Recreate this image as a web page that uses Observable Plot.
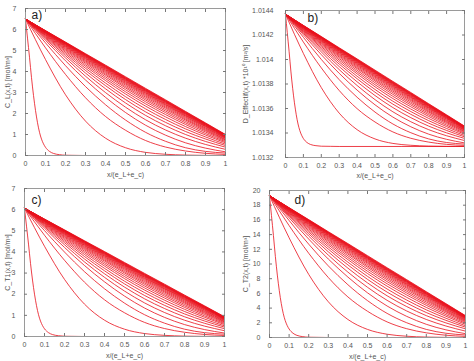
<!DOCTYPE html>
<html>
<head>
<meta charset="utf-8">
<script src="https://cdn.jsdelivr.net/npm/d3@7"></script>
<script src="https://cdn.jsdelivr.net/npm/@observablehq/plot@0.6"></script>
<style>
  html, body { margin: 0; padding: 0; background: #fff; }
  #fig { position: relative; width: 474px; height: 361px; overflow: hidden; }
  .panel { position: absolute; }
</style>
</head>
<body>
<div id="fig"></div>
<script>
// ---------- data ----------
// shared x positions for the profile curves
const xGrid = [0, 0.1, 0.2, 0.3, 0.4, 0.5, 0.6, 0.7, 0.8, 0.9, 1];
// earliest (steep) profile, on its own finer x positions, as fraction of inlet value
const steepX = [0, 0.01, 0.02, 0.03, 0.04, 0.05, 0.06, 0.07, 0.08, 0.09, 0.1, 0.12, 0.14, 0.17, 0.2, 0.25, 0.3, 1];
const steepProfile = [1, 0.86, 0.72, 0.57, 0.44, 0.33, 0.24, 0.17, 0.12, 0.085, 0.06, 0.03, 0.015, 0.006, 0.002, 0.001, 0, 0];
// later profiles (fraction of the inlet value) at xGrid, earliest to latest
const profiles = [
  [1, 0.703, 0.445, 0.252, 0.127, 0.057, 0.023, 0.009, 0.003, 0.001, 0],
  [1, 0.789, 0.594, 0.423, 0.286, 0.185, 0.110, 0.062, 0.033, 0.016, 0.008],
  [1, 0.825, 0.658, 0.505, 0.372, 0.260, 0.170, 0.104, 0.057, 0.030, 0.018],
  [1, 0.844, 0.694, 0.553, 0.426, 0.315, 0.222, 0.149, 0.093, 0.054, 0.027],
  [1, 0.855, 0.715, 0.581, 0.461, 0.354, 0.262, 0.187, 0.127, 0.081, 0.045],
  [1, 0.863, 0.731, 0.604, 0.489, 0.385, 0.294, 0.218, 0.154, 0.103, 0.061],
  [1, 0.870, 0.744, 0.623, 0.512, 0.410, 0.320, 0.243, 0.176, 0.121, 0.073],
  [1, 0.876, 0.755, 0.639, 0.531, 0.431, 0.342, 0.264, 0.195, 0.136, 0.083],
  [1, 0.881, 0.765, 0.653, 0.549, 0.451, 0.362, 0.283, 0.212, 0.150, 0.093],
  [1, 0.885, 0.774, 0.665, 0.563, 0.467, 0.379, 0.300, 0.227, 0.161, 0.101],
  [1, 0.889, 0.781, 0.676, 0.576, 0.482, 0.394, 0.314, 0.239, 0.172, 0.108],
  [1, 0.893, 0.788, 0.685, 0.588, 0.495, 0.407, 0.326, 0.250, 0.181, 0.114],
  [1, 0.896, 0.794, 0.693, 0.597, 0.505, 0.418, 0.337, 0.260, 0.188, 0.119],
  [1, 0.898, 0.799, 0.700, 0.606, 0.515, 0.428, 0.347, 0.268, 0.195, 0.124],
  [1, 0.901, 0.803, 0.707, 0.614, 0.524, 0.437, 0.355, 0.276, 0.201, 0.128],
  [1, 0.903, 0.807, 0.712, 0.621, 0.531, 0.445, 0.363, 0.283, 0.207, 0.132],
  [1, 0.905, 0.811, 0.717, 0.627, 0.538, 0.452, 0.370, 0.289, 0.212, 0.135],
  [1, 0.906, 0.814, 0.722, 0.632, 0.544, 0.458, 0.375, 0.294, 0.216, 0.138],
  [1, 0.907, 0.816, 0.725, 0.637, 0.549, 0.463, 0.380, 0.298, 0.219, 0.140],
  [1, 0.909, 0.819, 0.729, 0.641, 0.554, 0.468, 0.385, 0.303, 0.223, 0.143],
  [1, 0.910, 0.821, 0.732, 0.645, 0.558, 0.472, 0.389, 0.306, 0.225, 0.145],
  [1, 0.911, 0.823, 0.735, 0.648, 0.561, 0.476, 0.393, 0.309, 0.228, 0.146],
  [1, 0.912, 0.824, 0.737, 0.651, 0.564, 0.479, 0.396, 0.312, 0.230, 0.148],
  [1, 0.912, 0.826, 0.739, 0.653, 0.567, 0.482, 0.398, 0.314, 0.232, 0.149],
  [1, 0.913, 0.827, 0.741, 0.656, 0.570, 0.485, 0.401, 0.317, 0.234, 0.151],
  [1, 0.914, 0.829, 0.743, 0.659, 0.573, 0.488, 0.404, 0.320, 0.236, 0.152],
  [1, 0.915, 0.831, 0.746, 0.662, 0.577, 0.492, 0.408, 0.323, 0.239, 0.154]
];
// per-panel values at inlet (x = 0) and the initial (floor) value
const panelLetters = ["a)", "b)", "c)", "d)"];
const yTitles = ["C_L(x,t) [mol/m³]", "D_Effectif(x,t) *10¹⁰ [m²/s]", "C_T1(x,t) [mol/m³]", "C_T2(x,t) [mol/m³]"];
const inletValues = [6.5, 1.01437, 6.07, 19.3];
const floorValues = [0, 1.01329, 0, 0];
const xTitle = "x/(e_L+e_c)";
const xTicks = [0, 0.1, 0.2, 0.3, 0.4, 0.5, 0.6, 0.7, 0.8, 0.9, 1];
const yTicksA = [0, 1, 2, 3, 4, 5, 6, 7];
const yTicksB = [1.0132, 1.0134, 1.0136, 1.0138, 1.014, 1.0142, 1.0144];
const yTicksC = [0, 1, 2, 3, 4, 5, 6, 7];
const yTicksD = [0, 2, 4, 6, 8, 10, 12, 14, 16, 18, 20];
const yTickSets = [yTicksA, yTicksB, yTicksC, yTicksD];

// ---------- layout (styling only) ----------
const layout = [
  {left: 0,   top: 0,   w: 237, h: 180, mL: 25, mR: 12, mT: 8,  mB: 25, yPad: 12, yt: -18, xt: 19, lx: 6,  ly: 2},
  {left: 237, top: 0,   w: 237, h: 180, mL: 48, mR: 10, mT: 10, mB: 23, yPad: 15, yt: -40, xt: 18, lx: 22, ly: 3},
  {left: 0,   top: 180, w: 237, h: 181, mL: 24, mR: 13, mT: 8,  mB: 25, yPad: 12, yt: -17, xt: 19, lx: 7,  ly: 7},
  {left: 237, top: 180, w: 237, h: 181, mL: 32, mR: 9,  mT: 10, mB: 24, yPad: 12, yt: -24, xt: 19, lx: 25, ly: 5}
];

const fig = document.getElementById("fig");
const fmt = d => String(+d.toFixed(4));

for (let p = 0; p < 4; p++) {
  const L = layout[p];
  const span = inletValues[p] - floorValues[p];
  const rows = [];
  steepX.forEach((x, i) => rows.push({k: 0, x, y: floorValues[p] + steepProfile[i] * span}));
  profiles.forEach((prof, c) => prof.forEach((u, i) => rows.push({k: c + 1, x: xGrid[i], y: floorValues[p] + u * span})));
  const yt = yTickSets[p];
  const chart = Plot.plot({
    width: L.w, height: L.h,
    marginLeft: L.mL, marginRight: L.mR, marginTop: L.mT, marginBottom: L.mB,
    style: {fontFamily: "Liberation Sans, Arial, sans-serif", fontSize: "7px", color: "#555", background: "white"},
    x: {domain: [0, 1]},
    y: {domain: [yt[0], yt[yt.length - 1]]},
    marks: [
      Plot.line(rows, {x: "x", y: "y", z: "k", stroke: "#e8101c", strokeWidth: 1, strokeOpacity: 0.8, curve: "monotone-x"}),
      Plot.frame({stroke: "#9a9a9a"}),
      Plot.axisX({ticks: xTicks, tickSize: -3, tickPadding: 9, tickFormat: fmt, label: null, stroke: "#777", fill: "#555"}),
      Plot.axisX({anchor: "top", ticks: xTicks, tickSize: -3, tickFormat: () => "", label: null, stroke: "#777"}),
      Plot.axisY({ticks: yt, tickSize: -3, tickPadding: L.yPad, tickFormat: fmt, label: null, stroke: "#777", fill: "#555"}),
      Plot.axisY({anchor: "right", ticks: yt, tickSize: -3, tickFormat: () => "", label: null, stroke: "#777"}),
      Plot.text([panelLetters[p]], {frameAnchor: "top-left", textAnchor: "start", lineAnchor: "top", dx: L.lx, dy: L.ly, fontSize: 12, fill: "#222"}),
      Plot.text([yTitles[p]], {frameAnchor: "left", rotate: -90, textAnchor: "middle", lineAnchor: "middle", dx: L.yt, fontSize: 7, fill: "#555"}),
      Plot.text([xTitle], {frameAnchor: "bottom", textAnchor: "middle", lineAnchor: "middle", dy: L.xt, fontSize: 7, fill: "#555"})
    ]
  });
  const div = document.createElement("div");
  div.className = "panel";
  div.style.left = L.left + "px";
  div.style.top = L.top + "px";
  div.appendChild(chart);
  fig.appendChild(div);
}
</script>
</body>
</html>
